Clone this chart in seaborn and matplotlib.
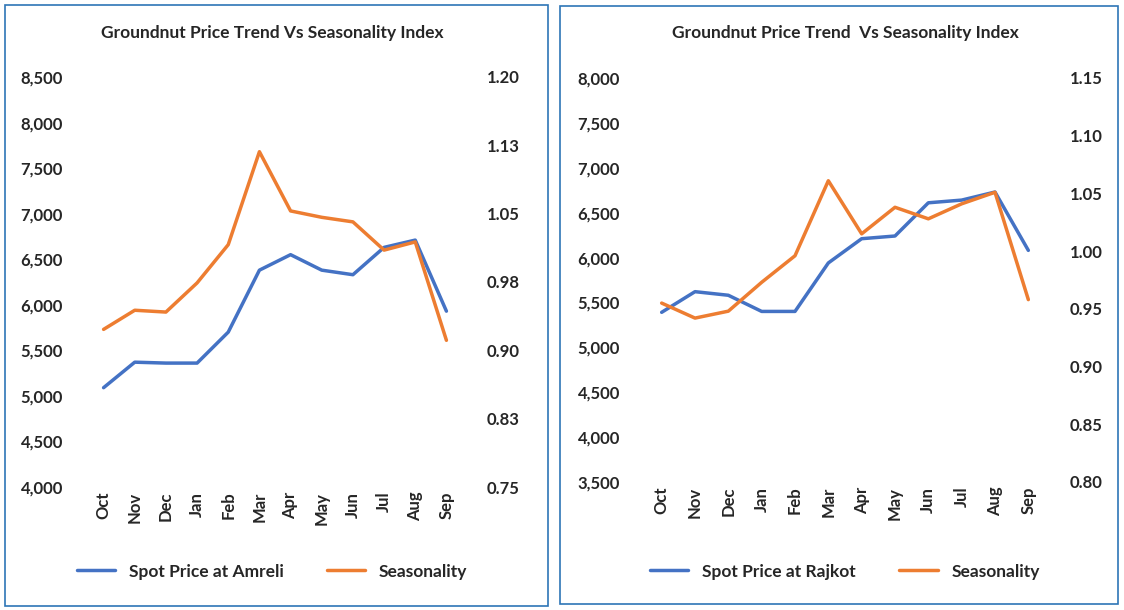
import matplotlib
matplotlib.use("Agg")
import matplotlib.pyplot as plt
import seaborn as sns
import pandas as pd
from matplotlib.patches import Rectangle
from matplotlib.ticker import FixedFormatter, FuncFormatter, FixedLocator

months = ['Oct', 'Nov', 'Dec', 'Jan', 'Feb', 'Mar', 'Apr', 'May', 'Jun', 'Jul', 'Aug', 'Sep']
amreli_price = [5090, 5370, 5360, 5360, 5700, 6380, 6550, 6380, 6330, 6630, 6710, 5930]
amreli_season = [0.923, 0.944, 0.942, 0.974, 1.016, 1.118, 1.053, 1.046, 1.041, 1.010, 1.019, 0.911]
rajkot_price = [5390, 5620, 5580, 5400, 5400, 5940, 6210, 6240, 6610, 6640, 6730, 6080]
rajkot_season = [0.955, 0.942, 0.948, 0.973, 0.996, 1.061, 1.015, 1.038, 1.028, 1.041, 1.051, 0.958]
amreli_rticks = [0.75, 0.825, 0.90, 0.975, 1.05, 1.125, 1.20]
amreli_rlabels = ['0.75', '0.83', '0.90', '0.98', '1.05', '1.13', '1.20']
rajkot_rticks = [0.80, 0.85, 0.90, 0.95, 1.00, 1.05, 1.10, 1.15]
rajkot_rlabels = ['0.80', '0.85', '0.90', '0.95', '1.00', '1.05', '1.10', '1.15']

BLUE = '#4472C4'
ORANGE = '#ED7D31'

sns.set_style('white')
plt.rcParams['font.family'] = ['Lato', 'DejaVu Sans']
plt.rcParams['font.weight'] = 'bold'

fig = plt.figure(figsize=(11.24, 6.1), dpi=100)
W, H = 1124, 610
fig.patches.append(Rectangle((5 / W, 4 / H), 543 / W, 601 / H, transform=fig.transFigure,
                             fill=False, edgecolor='#2E75B6', lw=1.2))
fig.patches.append(Rectangle((560 / W, 6 / H), 558 / W, 598 / H, transform=fig.transFigure,
                             fill=False, edgecolor='#2E75B6', lw=1.2))


def panel(rect, price, season, label, ylim, yticks, rlim, rticks, rlabels, title, lx, ty):
    ax = fig.add_axes(rect)
    df = pd.DataFrame({'month': months, 'price': price, 'season': season})
    sns.lineplot(data=df, x='month', y='price', ax=ax, color=BLUE, lw=2.5, sort=False, label=label, legend=False)
    ax2 = ax.twinx()
    sns.lineplot(data=df, x='month', y='season', ax=ax2, color=ORANGE, lw=2.5, sort=False, label='Seasonality', legend=False)
    ax.set_ylim(*ylim)
    ax.yaxis.set_major_locator(FixedLocator(yticks))
    ax.yaxis.set_major_formatter(FuncFormatter(lambda v, p: f'{v:,.0f}'))
    ax2.set_ylim(*rlim)
    ax2.yaxis.set_major_locator(FixedLocator(rticks))
    ax2.yaxis.set_major_formatter(FixedFormatter(rlabels))
    ax.grid(False)
    ax.set_xlim(-0.5, 11.5)
    ax.set_xlabel('')
    ax.set_ylabel('')
    ax2.set_ylabel('')
    for a in (ax, ax2):
        for s in a.spines.values():
            s.set_visible(False)
        a.tick_params(length=0, labelsize=12)
    ax.tick_params(axis='x', rotation=90, labelsize=12)
    ax.tick_params(axis='y', pad=18)
    ax2.tick_params(axis='y', pad=18)
    fig.text(lx, ty, title, fontsize=12.5, fontweight='bold', ha='center', va='center')
    h1, l1 = ax.get_legend_handles_labels()
    h2, l2 = ax2.get_legend_handles_labels()
    fig.legend(h1 + h2, l1 + l2, loc='center', bbox_to_anchor=(lx, 0.063), ncol=2,
               frameon=False, fontsize=12.5, handlelength=2.2, columnspacing=2.5)


panel([88 / W, 1 - 487 / H, 374 / W, 410 / H], amreli_price, amreli_season, 'Spot Price at Amreli',
      (4000, 8500), range(4000, 8501, 500), (0.75, 1.20), amreli_rticks, amreli_rlabels,
      'Groundnut Price Trend Vs Seasonality Index', 272 / W, 1 - 33 / H)
panel([645 / W, 1 - 482 / H, 400 / W, 404 / H], rajkot_price, rajkot_season, 'Spot Price at Rajkot',
      (3500, 8000), range(3500, 8001, 500), (0.80, 1.15), rajkot_rticks, rajkot_rlabels,
      'Groundnut Price Trend  Vs Seasonality Index', 845 / W, 1 - 33 / H)

fig.savefig('out.png', dpi=100)
